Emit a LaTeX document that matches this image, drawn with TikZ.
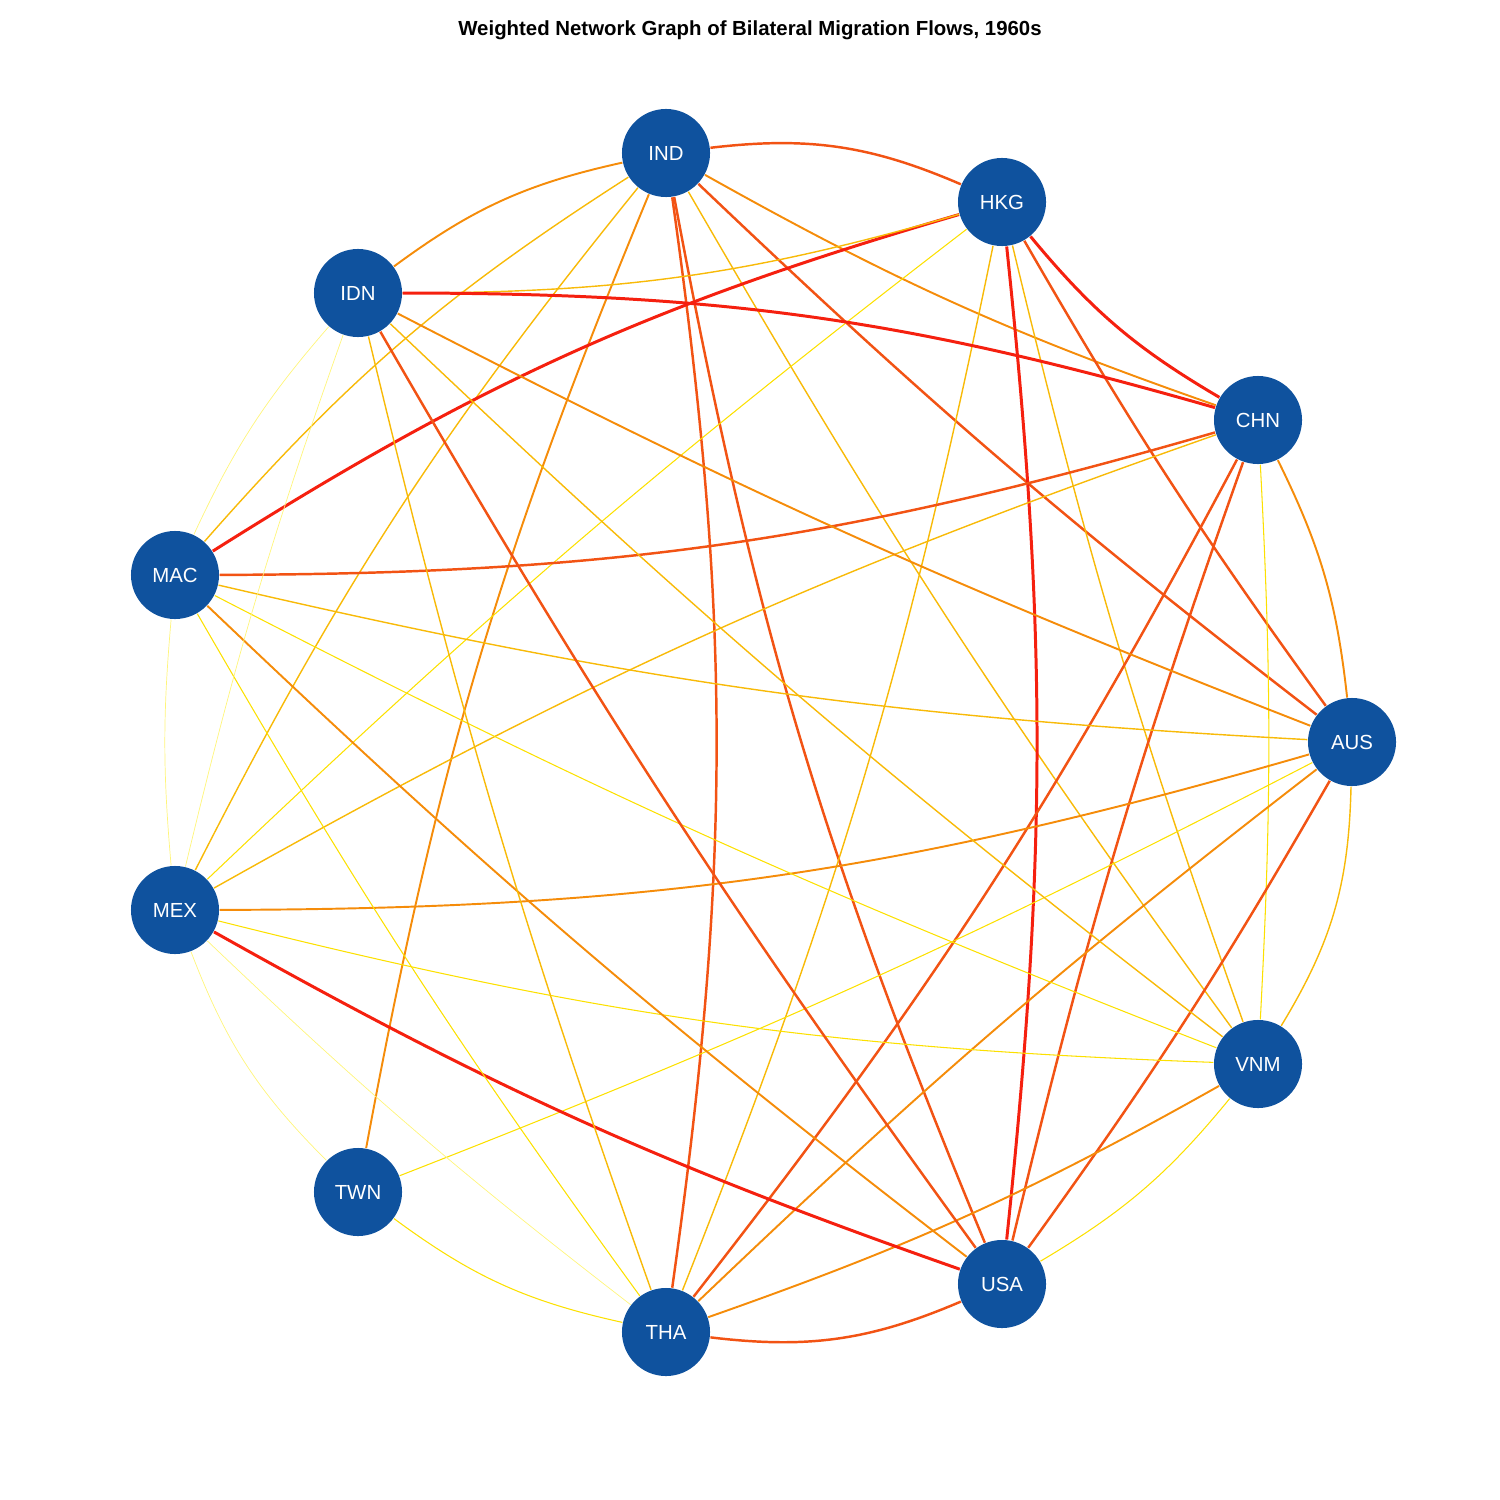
\documentclass[tikz,border=0pt]{standalone}
\usepackage{fontspec}
\setmainfont{Liberation Sans}
\usetikzlibrary{backgrounds}
\definecolor{nodeblue}{HTML}{0F529E}
\definecolor{wR}{HTML}{F5200F}
\definecolor{wRO}{HTML}{F25314}
\definecolor{wO}{HTML}{F58C0A}
\definecolor{wYO}{HTML}{F8BA08}
\definecolor{wY}{HTML}{FCE000}
\definecolor{wF}{HTML}{FFF57A}
\tikzset{
  country/.style={circle,fill=nodeblue,minimum size=0.88cm,inner sep=0pt,text=white,font=\fontsize{5.8}{7}\selectfont},
  e1/.style={draw=wR,line width=0.85pt},
  e2/.style={draw=wRO,line width=0.7pt},
  e3/.style={draw=wO,line width=0.55pt},
  e4/.style={draw=wYO,line width=0.4pt},
  e5/.style={draw=wY,line width=0.3pt},
  e6/.style={draw=wF,line width=0.2pt},
}
\begin{document}
\begin{tikzpicture}[x=0.01cm,y=-0.01cm]
\useasboundingbox (0,0) rectangle (1500,1500);
\node[font=\bfseries\fontsize{5.8}{7}\selectfont] (title) at (750,30) {Weighted Network Graph of Bilateral Migration Flows, 1960s};
\node[country] (IND) at (666,153) {IND};
\node[country] (HKG) at (1002,202) {HKG};
\node[country] (CHN) at (1258,420) {CHN};
\node[country] (AUS) at (1352,742) {AUS};
\node[country] (VNM) at (1258,1064) {VNM};
\node[country] (USA) at (1002,1284) {USA};
\node[country] (THA) at (666,1332) {THA};
\node[country] (TWN) at (358,1192) {TWN};
\node[country] (MEX) at (175,910) {MEX};
\node[country] (MAC) at (175,575) {MAC};
\node[country] (IDN) at (358,293) {IDN};
\begin{pgfonlayer}{background}
\draw[e2] (IND) to[bend left=15] (HKG);
\draw[e3] (IND) to[bend right=12] (IDN);
\draw[e4] (IND) to[bend right=8] (MAC);
\draw[e4] (IND) to[bend right=6] (MEX);
\draw[e3] (IND) to[bend right=6] (TWN);
\draw[e2] (IND) to[bend left=8] (THA);
\draw[e2] (IND) to[bend right=6] (USA);
\draw[e2] (IND) to[bend right=3] (AUS);
\draw[e4] (IND) to[bend right=3] (VNM);
\draw[e3] (IND) to[bend right=5] (CHN);
\draw[e1] (HKG) to[bend right=10] (CHN);
\draw[e1] (HKG) to[bend left=-8] (MAC);
\draw[e1] (HKG) to[bend left=6] (USA);
\draw[e2] (HKG) to[bend right=3] (AUS);
\draw[e4] (HKG) to[bend right=3] (VNM);
\draw[e4] (HKG) to[bend left=5] (THA);
\draw[e5] (HKG) to[bend right=3] (MEX);
\draw[e4] (HKG) to[bend left=8] (IDN);
\draw[e1] (CHN) to[bend right=8] (IDN);
\draw[e2] (CHN) to[bend left=8] (MAC);
\draw[e4] (CHN) to[bend right=5] (MEX);
\draw[e2] (CHN) to[bend left=5] (THA);
\draw[e2] (CHN) to[bend right=3] (USA);
\draw[e3] (CHN) to[bend left=10] (AUS);
\draw[e5] (CHN) to[bend left=3] (VNM);
\draw[e3] (AUS) to[bend left=3] (IDN);
\draw[e4] (AUS) to[bend left=5] (MAC);
\draw[e3] (AUS) to[bend left=8] (MEX);
\draw[e3] (AUS) to[bend right=3] (THA);
\draw[e2] (AUS) to[bend left=3] (USA);
\draw[e4] (AUS) to[bend left=15] (VNM);
\draw[e5] (AUS) to[bend left=3] (TWN);
\draw[e3] (VNM) to[bend left=5] (THA);
\draw[e5] (VNM) to[bend left=10] (USA);
\draw[e5] (VNM) to[bend left=6] (MEX);
\draw[e5] (VNM) to[bend left=3] (MAC);
\draw[e4] (VNM) to[bend left=3] (IDN);
\draw[e2] (USA) to[bend left=15] (THA);
\draw[e1] (USA) to[bend left=5] (MEX);
\draw[e3] (USA) to[bend left=3] (MAC);
\draw[e2] (USA) to[bend left=3] (IDN);
\draw[e5] (THA) to[bend left=12] (TWN);
\draw[e5] (THA) to[bend left=3] (MAC);
\draw[e4] (THA) to[bend left=3] (IDN);
\draw[e6] (THA) to[bend left=3] (MEX);
\draw[e6] (TWN) to[bend left=12] (MEX);
\draw[e6] (MEX) to[bend left=5] (MAC);
\draw[e6] (MEX) to[bend left=3] (IDN);
\draw[e6] (MAC) to[bend left=8] (IDN);
\end{pgfonlayer}
\end{tikzpicture}
\end{document}
